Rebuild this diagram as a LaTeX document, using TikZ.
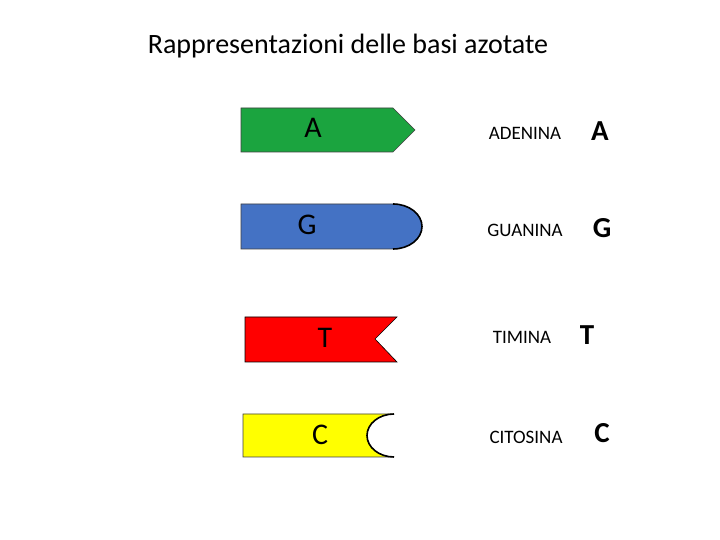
\documentclass[tikz,border=0pt]{standalone}
\usepackage{fontspec}
\setmainfont{Carlito}
\usepackage{tikz}

\definecolor{adgreen}{HTML}{1BA43F}
\definecolor{gublue}{HTML}{4472C4}
\definecolor{tired}{HTML}{FF0000}
\definecolor{ciyellow}{HTML}{FFFF00}

\begin{document}
\begin{tikzpicture}[x=1pt,y=1pt]
        \tikzstyle{every node}+=[inner sep=0pt]
        \tikzstyle{bodyline}=[draw=black!75,line width=0.6pt]
        \tikzstyle{capline}=[black,line width=1.6pt]
        \tikzstyle{inbox}=[font=\fontsize{30}{32}\selectfont]
        \tikzstyle{basename}=[font=\fontsize{19}{21}\selectfont]
        \tikzstyle{bigletter}=[font=\fontsize{29}{31}\selectfont\bfseries]
        \useasboundingbox (0,0) rectangle (720,540);
        \fill [white] (0,0) rectangle (720,540);
        \node [anchor=base] (title) at (348,486) {\fontsize{28}{30}\selectfont Rappresentazioni delle basi azotate};
        % adenina
        \draw [bodyline,fill=adgreen] (241,388) -- (241,432) -- (393,432) -- (415,410) -- (393,388) -- cycle;
        \node [inbox] (inA) at (313,412) {A};
        \node [basename] (nameA) at (525,407) {ADENINA};
        \node [bigletter] (letA) at (600,408.5) {A};
        % guanina
        \draw [bodyline,fill=gublue] (241,291) -- (241,336) -- (393,336) arc [start angle=90,end angle=-90,x radius=29,y radius=22.5] -- cycle;
        \draw [capline] (393,336) arc [start angle=90,end angle=-90,x radius=29,y radius=22.5];
        \node [inbox] (inG) at (307,315) {G};
        \node [basename] (nameG) at (525,310) {GUANINA};
        \node [bigletter] (letG) at (602,312) {G};
        % timina
        \draw [black,line width=0.6pt,fill=tired] (245,178) -- (245,223) -- (397,223) -- (375,201) -- (397,178) -- cycle;
        \node [inbox] (inT) at (325,202) {T};
        \node [basename] (nameT) at (522,203) {TIMINA};
        \node [bigletter] (letT) at (587,205) {T};
        % citosina
        \draw [bodyline,fill=ciyellow] (243,83) -- (243,126) -- (394,126) arc [start angle=90,end angle=270,x radius=27,y radius=21.5] -- cycle;
        \draw [capline] (394,126) arc [start angle=90,end angle=270,x radius=27,y radius=21.5];
        \node [inbox] (inC) at (320,105) {C};
        \node [basename] (nameC) at (526,103) {CITOSINA};
        \node [bigletter] (letC) at (602,107) {C};
\end{tikzpicture}
\end{document}
